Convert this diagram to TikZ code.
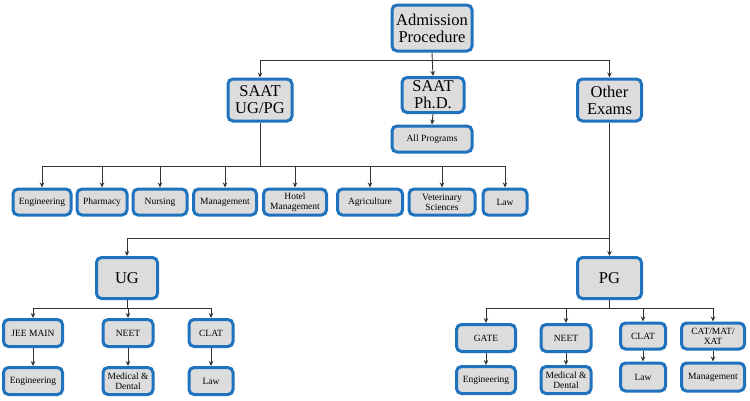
\documentclass[tikz,border=0pt]{standalone}
\usepackage{fontspec}
\setmainfont{Liberation Serif}
\usetikzlibrary{arrows.meta}
\definecolor{bblue}{HTML}{1E72BE}
\definecolor{bfill}{HTML}{DCDCDC}
\definecolor{lcol}{HTML}{333333}
\tikzset{
  box/.style={draw=bblue, fill=bfill, line width=3pt, rounded corners=5pt, align=center, inner sep=1pt, text=black},
  big/.style={box, font=\fontsize{16.5}{17}\selectfont},
  small/.style={box, font=\fontsize{9.5}{10}\selectfont},
  arr/.style={draw=lcol, line width=0.9pt, -{Stealth[length=5pt,width=4.5pt]}},
  ln/.style={draw=lcol, line width=0.9pt},
}
\begin{document}
\begin{tikzpicture}[x=1pt,y=-1pt]
\useasboundingbox (0,0) rectangle (750,400);
% top levels
\node[big, minimum width=80pt, minimum height=46pt] (adm) at (432,28) {Admission\\Procedure};
\node[big, minimum width=64pt, minimum height=42pt] (saatug) at (260,100) {SAAT\\UG/PG};
\node[big, minimum width=62pt, minimum height=35pt] (phd) at (433,95) {SAAT\\Ph.D.};
\node[small, minimum width=80pt, minimum height=26pt] (allp) at (432,139) {All Programs};
\node[big, minimum width=64pt, minimum height=42pt] (other) at (609.5,100) {Other\\Exams};
% row of SAAT UG/PG
\node[small, minimum width=58pt, minimum height=26pt] (r1) at (42,202) {Engineering};
\node[small, minimum width=50pt, minimum height=26pt] (r2) at (102,202) {Pharmacy};
\node[small, minimum width=54pt, minimum height=26pt] (r3) at (160,202) {Nursing};
\node[small, minimum width=63pt, minimum height=26pt] (r4) at (225,202) {Management};
\node[small, minimum width=63pt, minimum height=26pt] (r5) at (295,202) {Hotel\\Management};
\node[small, minimum width=65pt, minimum height=26pt] (r6) at (370,202) {Agriculture};
\node[small, minimum width=66pt, minimum height=26pt] (r7) at (442,202) {Veterinary\\Sciences};
\node[small, minimum width=44pt, minimum height=26pt] (r8) at (505,202) {Law};
% UG / PG
\node[big, minimum width=61pt, minimum height=41pt] (ug) at (127,278) {UG};
\node[big, minimum width=64pt, minimum height=41pt] (pg) at (609.5,278) {PG};
% UG children
\node[small, minimum width=59pt, minimum height=27pt] (u1) at (33,333) {JEE MAIN};
\node[small, minimum width=50pt, minimum height=27pt] (u2) at (128,333) {NEET};
\node[small, minimum width=44pt, minimum height=27pt] (u3) at (211,333) {CLAT};
\node[small, minimum width=59pt, minimum height=27pt] (u4) at (33,381) {Engineering};
\node[small, minimum width=50pt, minimum height=27pt] (u5) at (128,381) {Medical \&\\Dental};
\node[small, minimum width=44pt, minimum height=27pt] (u6) at (211,381) {Law};
% PG children
\node[small, minimum width=59pt, minimum height=27pt] (p1) at (486,338) {GATE};
\node[small, minimum width=50pt, minimum height=27pt] (p2) at (566,338) {NEET};
\node[small, minimum width=45pt, minimum height=26pt] (p3) at (643,336) {CLAT};
\node[small, minimum width=63pt, minimum height=26pt] (p4) at (713,336) {CAT/MAT/\\XAT};
\node[small, minimum width=59pt, minimum height=27pt] (p5) at (486,380) {Engineering};
\node[small, minimum width=50pt, minimum height=27pt] (p6) at (566,380) {Medical \&\\Dental};
\node[small, minimum width=45pt, minimum height=28pt] (p7) at (643,377) {Law};
\node[small, minimum width=63pt, minimum height=28pt] (p8) at (713,377) {Management};
% junctions
\coordinate (j1) at (432,60);
\coordinate (j3) at (260,166);
\coordinate (j2) at (609.5,238);
\coordinate (j4) at (127,308);
\coordinate (j5) at (609.5,308);
% connectors
\draw[arr] (adm.south) -- (phd.north);
\draw[arr] (j1) -| (saatug.north);
\draw[arr] (j1) -| (other.north);
\draw[arr] (phd.south) -- (allp.north);
\draw[ln] (saatug.south) -- (j3);
\foreach \n in {r1,r2,r3,r4,r5,r6,r7,r8} \draw[arr] (j3) -| (\n.north);
\draw[arr] (other.south) -- (pg.north);
\draw[arr] (j2) -| (ug.north);
\draw[ln] (ug.south) -- (j4);
\foreach \n in {u1,u2,u3} \draw[arr] (j4) -| (\n.north);
\draw[arr] (u1.south) -- (u4.north);
\draw[arr] (u2.south) -- (u5.north);
\draw[arr] (u3.south) -- (u6.north);
\draw[ln] (pg.south) -- (j5);
\foreach \n in {p1,p2,p3,p4} \draw[arr] (j5) -| (\n.north);
\draw[arr] (p1.south) -- (p5.north);
\draw[arr] (p2.south) -- (p6.north);
\draw[arr] (p3.south) -- (p7.north);
\draw[arr] (p4.south) -- (p8.north);
\end{tikzpicture}
\end{document}
